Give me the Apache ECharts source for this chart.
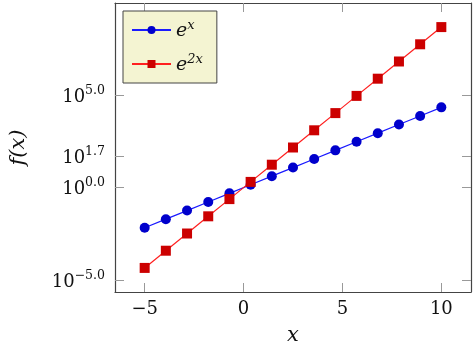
<!DOCTYPE html>
<html>
<head>
<meta charset="utf-8">
<script src="https://cdn.jsdelivr.net/npm/echarts@6/dist/echarts.min.js"></script>
<style>
  html, body { margin: 0; padding: 0; background: #fff; }
  #chart { width: 474px; height: 351px; }
</style>
</head>
<body>
<div id="chart"></div>
<script>
// samples (15 points from -5 to 10)
var xs = [-5, -3.929, -2.857, -1.786, -0.714, 0.357, 1.429, 2.5, 3.571, 4.643, 5.714, 6.786, 7.857, 8.929, 10];
var expX = [0.006738, 0.01967, 0.05743, 0.1677, 0.4895, 1.429, 4.173, 12.18, 35.57, 103.8, 303.2, 885.0, 2584, 7544, 22026];
var exp2X = [4.54e-5, 3.87e-4, 3.30e-3, 0.0281, 0.2397, 2.043, 17.41, 148.4, 1265, 10779, 91900, 783400, 6.678e6, 5.692e7, 4.852e8];
var xTicks = [-5, 0, 5, 10];
var yTickExps = [-5, 0, 1.7, 5];

var yTicks = yTickExps.map(function (e) { return Math.pow(10, e); });
var yMin = Math.pow(10, -5.646);
var yMax = Math.pow(10, 9.989);
var serif = "'DejaVu Serif', 'Liberation Serif', serif";
var blue = "#0000cc";
var red = "#cc0000";

function pairs(ys) {
  return xs.map(function (x, i) { return [x, ys[i]]; });
}

function minus(s) {
  return String(s).replace("-", "\u2212");
}

var frameLine = { show: true, onZero: false, lineStyle: { color: "#444", width: 1.2 } };

var chart = echarts.init(document.getElementById("chart"));

var option = {
  animation: false,
  backgroundColor: "#fff",
  grid: { left: 113, right: 3, top: 3, bottom: 54 },
  legend: {
    left: 123,
    top: 11,
    orient: "vertical",
    padding: [8, 14, 8, 8],
    itemWidth: 39,
    itemHeight: 10,
    itemGap: 12,
    backgroundColor: "#f4f4d2",
    borderColor: "#444",
    borderWidth: 1,
    borderRadius: 0,
    formatter: function (name) {
      return name == "ex" ? "{b|e}{s|x}" : "{b|e}{s|2x}";
    },
    textStyle: {
      rich: {
        b: { fontFamily: serif, fontStyle: "italic", fontSize: 19, color: "#111", verticalAlign: "bottom" },
        s: { fontFamily: serif, fontStyle: "italic", fontSize: 13, color: "#111", verticalAlign: "bottom", padding: [0, 0, 9, 0] }
      }
    },
    data: ["ex", "e2x"]
  },
  xAxis: [
    {
      type: "value",
      min: -6.5,
      max: 11.5,
      name: "x",
      nameLocation: "middle",
      nameGap: 33,
      nameTextStyle: { fontFamily: serif, fontStyle: "italic", fontSize: 21, color: "#111" },
      axisLine: frameLine,
      axisTick: { inside: true, length: 9, customValues: xTicks, lineStyle: { color: "#999" } },
      axisLabel: {
        customValues: xTicks,
        margin: 8,
        fontFamily: serif,
        fontSize: 18,
        color: "#111",
        formatter: function (v) { return minus(v); }
      },
      splitLine: { show: false }
    },
    {
      type: "value",
      position: "top",
      min: -6.5,
      max: 11.5,
      axisLine: frameLine,
      axisTick: { inside: true, length: 9, customValues: xTicks, lineStyle: { color: "#999" } },
      axisLabel: { show: false },
      splitLine: { show: false }
    }
  ],
  yAxis: [
    {
      type: "log",
      logBase: 10,
      min: yMin,
      max: yMax,
      name: "f(x)",
      nameLocation: "middle",
      nameGap: 86,
      nameTextStyle: { fontFamily: serif, fontStyle: "italic", fontSize: 21, color: "#111" },
      axisLine: frameLine,
      axisTick: { inside: true, length: 9, customValues: yTicks, lineStyle: { color: "#999" } },
      minorTick: { show: false },
      axisLabel: {
        customValues: yTicks,
        margin: 10,
        formatter: function (v) {
          var e = Math.log10(v).toFixed(1);
          if (e == "-0.0") e = "0.0";
          return "{b|10}{s|" + minus(e) + "}";
        },
        rich: {
          b: { fontFamily: serif, fontSize: 18, color: "#111", verticalAlign: "bottom" },
          s: { fontFamily: serif, fontSize: 12.5, color: "#111", verticalAlign: "bottom", padding: [0, 0, 9, 0] }
        }
      },
      splitLine: { show: false }
    },
    {
      type: "log",
      logBase: 10,
      position: "right",
      min: yMin,
      max: yMax,
      axisLine: frameLine,
      axisTick: { inside: true, length: 9, customValues: yTicks, lineStyle: { color: "#999" } },
      minorTick: { show: false },
      axisLabel: { show: false },
      splitLine: { show: false }
    }
  ],
  series: [
    {
      name: "ex",
      type: "line",
      data: pairs(expX),
      symbol: "circle",
      symbolSize: 10,
      lineStyle: { color: "#1a1aff", width: 1.2 },
      itemStyle: { color: blue },
      z: 2
    },
    {
      name: "e2x",
      type: "line",
      data: pairs(exp2X),
      symbol: "rect",
      symbolSize: 10,
      lineStyle: { color: "#ff2020", width: 1.2 },
      itemStyle: { color: red },
      z: 3
    }
  ]
};

chart.setOption(option);
</script>
</body>
</html>
